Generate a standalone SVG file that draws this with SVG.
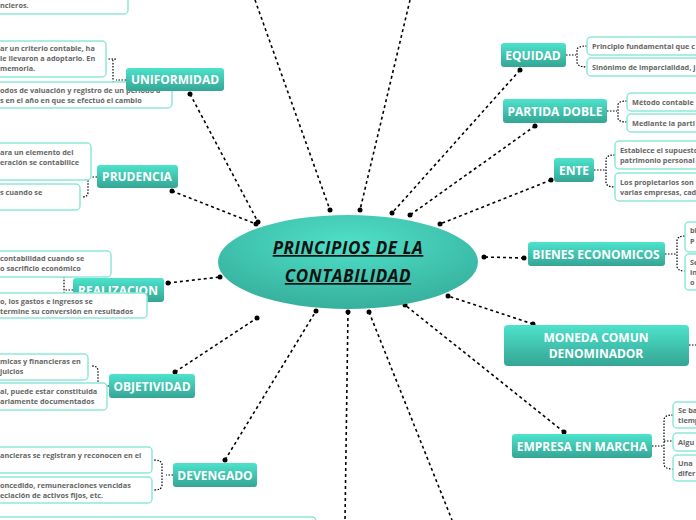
<svg xmlns="http://www.w3.org/2000/svg" width="696" height="520" viewBox="0 0 696 520">
<defs>
<linearGradient id="g" x1="0" y1="0" x2="0" y2="1"><stop offset="0" stop-color="#4de3cc"/><stop offset="1" stop-color="#35a594"/></linearGradient>
<radialGradient id="ge" cx="0.5" cy="0.3" r="0.7"><stop offset="0" stop-color="#4fe0c9"/><stop offset="1" stop-color="#36b09d"/></radialGradient>
</defs>
<style>
.t{fill:url(#g);}
.tt{font-family:"Open Sans","DejaVu Sans",sans-serif;font-weight:bold;font-size:12px;fill:#fff;text-anchor:middle;}
.l{fill:#fff;stroke:#8fe9d9;stroke-width:1.5;}
.lt{font-family:"Open Sans","DejaVu Sans",sans-serif;font-weight:bold;font-size:7.3px;fill:#666;}
.c{fill:none;stroke:#000;stroke-width:1.6;stroke-dasharray:3 3;}
.b{fill:none;stroke:#000;stroke-width:1.2;stroke-dasharray:1.5 1.5;}
.d{fill:#000;}
.ct{font-family:"Open Sans","DejaVu Sans",sans-serif;font-weight:bold;font-style:italic;font-size:17px;letter-spacing:0.6px;text-anchor:middle;text-decoration:underline;fill:#111;}
</style>
<rect width="696" height="520" fill="#fff"/>
<g id="connectors">
<path class="c" d="M255 0 L330 210 M410 0 L360 210 M348 312 L345 520 M369 312 L452 520"/>
<path class="c" d="M190 94 L258 222 M172 191 L256 224 M168 283 L220 277 M175 372 L257 318 M225 460 L316 311"/>
<path class="c" d="M520 70 L392 213 M535 126 L410 215 M551 180 L440 224 M524 258 L484 257 M533 324 L448 296 M564 432 L405 305"/>
<g class="d">
<circle cx="330" cy="210" r="2.5"/><circle cx="360" cy="210" r="2.5"/><circle cx="348" cy="312" r="2.5"/><circle cx="369" cy="312" r="2.5"/>
<circle cx="190" cy="94" r="2.5"/><circle cx="258" cy="222" r="2.5"/><circle cx="172" cy="191" r="2.5"/><circle cx="256" cy="224" r="2.5"/>
<circle cx="168" cy="283" r="2.5"/><circle cx="220" cy="277" r="2.5"/><circle cx="175" cy="372" r="2.5"/><circle cx="257" cy="318" r="2.5"/>
<circle cx="225" cy="460" r="2.5"/><circle cx="316" cy="311" r="2.5"/>
<circle cx="520" cy="70" r="2.5"/><circle cx="392" cy="213" r="2.5"/><circle cx="535" cy="126" r="2.5"/><circle cx="410" cy="215" r="2.5"/>
<circle cx="551" cy="180" r="2.5"/><circle cx="440" cy="224" r="2.5"/><circle cx="524" cy="258" r="2.5"/><circle cx="484" cy="257" r="2.5"/>
<circle cx="533" cy="324" r="2.5"/><circle cx="448" cy="296" r="2.5"/><circle cx="564" cy="432" r="2.5"/><circle cx="405" cy="305" r="2.5"/>
</g>
<path class="b" d="M126 80 H116 M116 59 Q112 59 113 62 V98 Q112 101 106 101 M116 59 H108"/>
<path class="b" d="M97 177 H88 M82 163 Q88 163 88 168 V192 Q88 197 82 197"/>
<path class="b" d="M73 290 H64 M60 270 Q64 270 64 275 V300 Q64 305 60 305"/>
<path class="b" d="M109 386 H100 M92 366 Q98 366 98 371 V392 Q98 397 92 397"/>
<path class="b" d="M173 475 H166 M154 460 Q162 460 162 465 V485 Q162 490 154 490"/>
<path class="b" d="M566 55 H576 M587 46 Q577 46 577 50 V62 Q577 67 587 67"/>
<path class="b" d="M607 111 H617 M627 101 Q618 101 618 105 V118 Q618 122 627 122"/>
<path class="b" d="M594 170 H605 M615 155 Q606 155 606 160 V182 Q606 187 615 187"/>
<path class="b" d="M665 254 H676 M685 236 Q677 236 677 241 V266 Q677 271 685 271"/>
<path class="b" d="M689 345 H696"/>
<path class="b" d="M652 446 H663 M673 415 Q664 415 664 420 V464 Q664 469 673 469 M664 441 H673"/>
</g>
<g id="center">
<ellipse cx="348" cy="262" rx="130" ry="47" fill="url(#ge)"/>
<text class="ct" x="348" y="254">PRINCIPIOS DE LA</text>
<text class="ct" x="348" y="282">CONTABILIDAD</text>
</g>
<g id="leaves-left">
<rect class="l" x="-10" y="-6" width="138" height="20" rx="4"/><text class="lt" x="0" y="8">ncieros.</text>
<rect class="l" x="-10" y="41" width="116" height="36" rx="4"/><text class="lt" x="0" y="51">ar un criterio contable, ha</text><text class="lt" x="0" y="61">le llevaron a adoptarlo. En</text><text class="lt" x="0" y="71">memoria.</text>
<rect class="l" x="-10" y="82" width="182" height="26" rx="4"/><text class="lt" x="0" y="93" fill="#333">odos de valuación y registro de un periodo a</text><text class="lt" x="0" y="103" fill="#333">s en el año en que se efectuó el cambio</text>
<rect class="l" x="-10" y="143" width="101" height="37" rx="4"/><text class="lt" x="0" y="155">ara un elemento del</text><text class="lt" x="0" y="165">eración se contabilice</text>
<rect class="l" x="-10" y="184" width="90" height="26" rx="4"/><text class="lt" x="0" y="195">s cuando se</text>
<rect class="l" x="-10" y="251" width="121" height="26" rx="4"/><text class="lt" x="0" y="261">contabilidad cuando se</text><text class="lt" x="0" y="271"> o sacrificio económico</text>
<rect class="l" x="-10" y="354" width="98" height="26" rx="4"/><text class="lt" x="0" y="364">micas y financieras en</text><text class="lt" x="0" y="374">juicios</text>
<rect class="l" x="-10" y="447" width="162" height="26" rx="4"/><text class="lt" x="0" y="458">ancieras se registran y reconocen en el</text>
<rect class="l" x="-10" y="477" width="162" height="26" rx="4"/><text class="lt" x="0" y="488">oncedido, remuneraciones vencidas</text><text class="lt" x="0" y="498">eciación de activos fijos, etc.</text>
<rect class="l" x="-10" y="517" width="326" height="20" rx="4"/>
</g>
<g id="uniformidad"><rect class="t" x="126" y="68" width="98" height="23" rx="3"/><text class="tt" x="175" y="84">UNIFORMIDAD</text></g>
<g id="prudencia"><rect class="t" x="97" y="165" width="81" height="23" rx="3"/><text class="tt" x="137" y="181">PRUDENCIA</text></g>
<g id="realizacion"><rect class="t" x="73" y="278" width="91" height="24" rx="3"/><text class="tt" x="118" y="295">REALIZACION</text></g>
<g id="realizacion-leaf"><rect class="l" x="-10" y="293" width="157" height="25" rx="4"/><text class="lt" x="0" y="304">o, los gastos e ingresos se</text><text class="lt" x="0" y="314">termine su conversión en resultados</text></g>
<g id="objetividad-leaf"><rect class="l" x="-10" y="383" width="117" height="27" rx="4"/><text class="lt" x="0" y="394">al, puede estar constituida</text><text class="lt" x="0" y="404">ariamente documentados</text></g>
<g id="objetividad"><rect class="t" x="109" y="374" width="86" height="24" rx="3"/><text class="tt" x="152" y="391">OBJETIVIDAD</text></g>
<g id="devengado"><rect class="t" x="173" y="463" width="84" height="24" rx="3"/><text class="tt" x="215" y="480">DEVENGADO</text></g>
<g id="equidad"><rect class="t" x="501" y="43" width="65" height="24" rx="3"/><text class="tt" x="533" y="60">EQUIDAD</text></g>
<g id="partida"><rect class="t" x="503" y="99" width="104" height="24" rx="3"/><text class="tt" x="555" y="116">PARTIDA DOBLE</text></g>
<g id="ente"><rect class="t" x="554" y="158" width="40" height="24" rx="3"/><text class="tt" x="574" y="175">ENTE</text></g>
<g id="bienes"><rect class="t" x="528" y="242" width="137" height="24" rx="3"/><text class="tt" x="596" y="259">BIENES ECONOMICOS</text></g>
<g id="moneda"><rect class="t" x="504" y="325" width="185" height="41" rx="4"/><text class="tt" x="596" y="342">MONEDA COMUN</text><text class="tt" x="596" y="358">DENOMINADOR</text></g>
<g id="empresa"><rect class="t" x="512" y="434" width="140" height="24" rx="3"/><text class="tt" x="582" y="451">EMPRESA EN MARCHA</text></g>
<g id="leaves-right">
<rect class="l" x="587" y="37" width="120" height="18" rx="4"/><text class="lt" x="592" y="49">Principio fundamental que c</text>
<rect class="l" x="587" y="58" width="120" height="18" rx="4"/><text class="lt" x="592" y="70">Sinónimo de imparcialidad, j</text>
<rect class="l" x="627" y="93" width="80" height="18" rx="4"/><text class="lt" x="632" y="105" fill="#333">Método contable</text>
<rect class="l" x="627" y="114" width="80" height="18" rx="4"/><text class="lt" x="632" y="126">Mediante la parti</text>
<rect class="l" x="615" y="141" width="92" height="28" rx="4"/><text class="lt" x="620" y="153">Establece el supuesto</text><text class="lt" x="620" y="163">patrimonio personal</text>
<rect class="l" x="615" y="173" width="92" height="28" rx="4"/><text class="lt" x="620" y="185">Los propietarios son</text><text class="lt" x="620" y="195">varias empresas, cad</text>
<rect class="l" x="685" y="222" width="20" height="30" rx="4"/><text class="lt" x="690" y="233">bi</text><text class="lt" x="690" y="244">P</text>
<rect class="l" x="685" y="254" width="20" height="36" rx="4"/><text class="lt" x="690" y="265">Se</text><text class="lt" x="690" y="275">in</text><text class="lt" x="690" y="285">o</text>
<rect class="l" x="673" y="402" width="30" height="26" rx="4"/><text class="lt" x="678" y="413">Se ba</text><text class="lt" x="678" y="423">tiemp</text>
<rect class="l" x="673" y="433" width="30" height="18" rx="4"/><text class="lt" x="678" y="445">Algu</text>
<rect class="l" x="673" y="455" width="30" height="26" rx="4"/><text class="lt" x="678" y="466">Una</text><text class="lt" x="678" y="476">difer</text>
</g>
</svg>
